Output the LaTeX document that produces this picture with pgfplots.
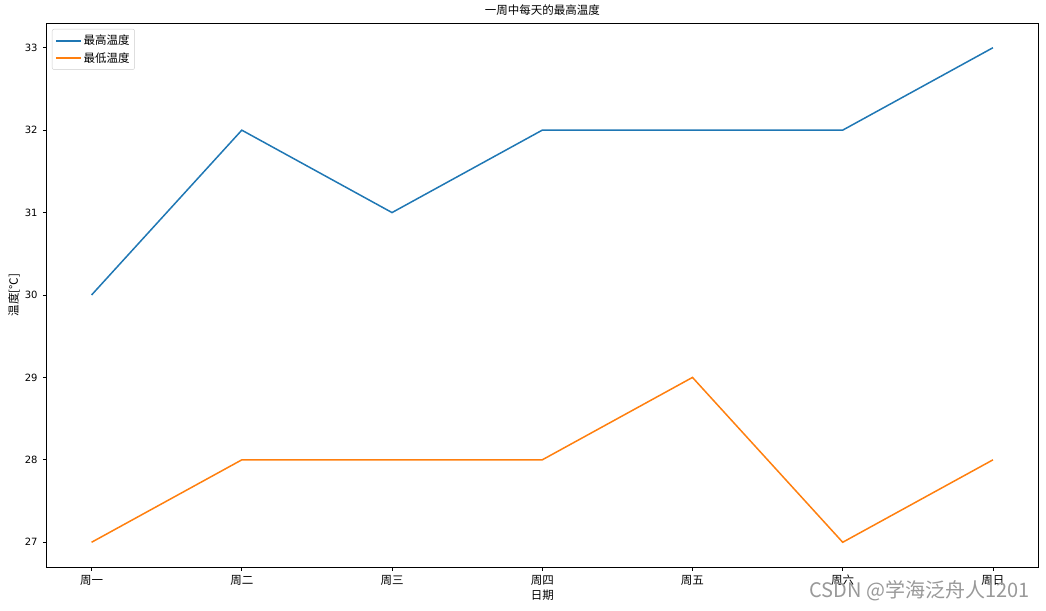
\documentclass[border=0pt]{standalone}
\usepackage{pgfplots}
\pgfplotsset{compat=1.18}
\usepackage{fontspec}
\setmainfont{DejaVu Sans}
\newfontfamily\cjk{Noto Sans CJK SC}

\definecolor{mblue}{HTML}{1F77B4}
\definecolor{morange}{HTML}{FF7F0E}

\begin{document}
\begin{tikzpicture}
\begin{axis}[
    scale only axis,
    width=991.5bp, height=544bp,
    xmin=-0.3, xmax=6.3,
    ymin=26.7, ymax=33.3,
    xtick={0,1,2,3,4,5,6},
    xticklabels={周一,周二,周三,周四,周五,周六,周日},
    ytick={27,28,29,30,31,32,33},
    /pgf/number format/assume math mode=true,
    x tick label style={font=\fontsize{11.5bp}{13bp}\cjk, yshift=-1bp},
    y tick label style={font=\fontsize{10bp}{12bp}\selectfont, xshift=-2bp},
    tick align=outside,
    major tick length=3.5bp,
    tick style={black, line width=0.8bp},
    axis line style={line width=0.8bp},
    xtick pos=bottom, ytick pos=left,
    title={一周中每天的最高温度},
    title style={font=\fontsize{11.5bp}{13bp}\cjk, yshift=-2bp},
    xlabel={日期},
    ylabel={温度[℃]},
    xlabel style={font=\fontsize{11.5bp}{13bp}\cjk, yshift=2bp},
    ylabel style={font=\fontsize{11.5bp}{13bp}\cjk, yshift=-2bp},
    legend style={at={(axis description cs:0.0055,0.989)}, anchor=north west,
        font=\fontsize{11.5bp}{13bp}\cjk, draw=black!20, rounded corners=2bp,
        fill=white, fill opacity=0.8, text opacity=1,
        inner xsep=3bp, inner ysep=4bp, row sep=2bp, cells={anchor=west}},
    legend image code/.code={\draw[#1] (0bp,0bp) -- (25bp,0bp);},
]
\addplot[color=mblue, line width=1.5bp] coordinates {
    (0,30) (1,32) (2,31) (3,32) (4,32) (5,32) (6,33)};
\addplot[color=morange, line width=1.5bp] coordinates {
    (0,27) (1,28) (2,28) (3,28) (4,29) (5,27) (6,28)};
\legend{最高温度,最低温度}
\end{axis}
\node[anchor=east, text=black!40, font=\fontsize{20bp}{22bp}\cjk, inner sep=0pt]
    at (983.5bp,-24bp) {CSDN @学海泛舟人1201};
\path (-46.5bp,-44bp) rectangle (999.5bp,567bp);
\end{tikzpicture}
\end{document}
